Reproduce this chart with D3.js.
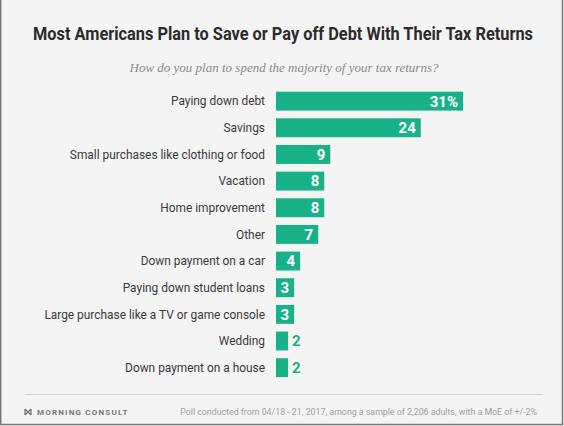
<!DOCTYPE html>
<html>
<head>
<meta charset="utf-8">
<script src="https://cdn.jsdelivr.net/npm/d3@7"></script>
<style>
  body { margin: 0; background: #f4f4f4; }
  svg { display: block; }
</style>
</head>
<body>
<div id="chart"></div>
<script>
const categories = [
  "Paying down debt",
  "Savings",
  "Small purchases like clothing or food",
  "Vacation",
  "Home improvement",
  "Other",
  "Down payment on a car",
  "Paying down student loans",
  "Large purchase like a TV or game console",
  "Wedding",
  "Down payment on a house"
];
const values = [31, 24, 9, 8, 8, 7, 4, 3, 3, 2, 2];

const title = "Most Americans Plan to Save or Pay off Debt With Their Tax Returns";
const subtitle = "How do you plan to spend the majority of your tax returns?";
const footnote = "Poll conducted from 04/18 - 21, 2017, among a sample of 2,206 adults, with a MoE of +/-2%";
const brand = "MORNING CONSULT";

const width = 564, height = 426;
const green = "#19b187";

const data = categories.map((c, i) => ({ label: c, value: values[i] }));

const svg = d3.select("#chart").append("svg")
    .attr("width", width)
    .attr("height", height);

svg.append("rect")
    .attr("width", width)
    .attr("height", height)
    .attr("fill", "#f4f4f4");

// frame (left, right, bottom)
svg.append("path")
    .attr("d", `M0.75,0 V${height - 1.5} H${width - 1.5} V0`)
    .attr("fill", "none")
    .attr("stroke", "#7a7a7a")
    .attr("stroke-width", 1.5);

// title: squeeze horizontally to mimic the condensed face
const titleText = svg.append("text")
    .attr("x", 0)
    .attr("y", 40)
    .attr("text-anchor", "middle")
    .style("font-family", "Roboto, sans-serif")
    .style("font-size", "19px")
    .style("font-weight", "bold")
    .style("fill", "#2b2b2b")
    .text(title);
const tw = titleText.node().getComputedTextLength();
const sx = Math.min(1, 500 / tw);
titleText.attr("transform", `translate(283,0) scale(${sx},1)`);

svg.append("text")
    .attr("x", 284)
    .attr("y", 72)
    .attr("text-anchor", "middle")
    .style("font-family", "'Liberation Serif', 'DejaVu Serif', serif")
    .style("font-style", "italic")
    .style("font-size", "13px")
    .style("fill", "#8a8a8a")
    .text(subtitle);

const x = d3.scaleLinear()
    .domain([0, 31])
    .range([276, 463]);

const y = d3.scaleBand()
    .domain(categories)
    .range([87.8, 381])
    .paddingInner(0.29)
    .paddingOuter(0.145);

const rows = svg.append("g")
    .selectAll("g")
    .data(data)
    .enter()
    .append("g");

rows.append("rect")
    .attr("x", x(0))
    .attr("y", d => y(d.label))
    .attr("width", d => x(d.value) - x(0))
    .attr("height", y.bandwidth())
    .attr("fill", green);

rows.append("text")
    .attr("x", x(0) - 11)
    .attr("y", d => y(d.label) + y.bandwidth() / 2)
    .attr("dy", "0.35em")
    .attr("text-anchor", "end")
    .style("font-family", "Roboto, 'Noto Sans', sans-serif")
    .style("font-size", "11.9px")
    .style("fill", "#3a3a3a")
    .text(d => d.label);

rows.append("text")
    .attr("x", d => d.value >= 3 ? x(d.value) - 5 : x(d.value) + 4)
    .attr("y", d => y(d.label) + y.bandwidth() / 2)
    .attr("dy", "0.36em")
    .attr("text-anchor", d => d.value >= 3 ? "end" : "start")
    .style("font-family", "Roboto, sans-serif")
    .style("font-size", "15px")
    .style("font-weight", "bold")
    .style("fill", d => d.value >= 3 ? "#ffffff" : green)
    .text((d, i) => i === 0 ? d.value + "%" : d.value);

// footer
svg.append("line")
    .attr("x1", 25).attr("x2", 543)
    .attr("y1", 394.5).attr("y2", 394.5)
    .attr("stroke", "#d6d6d6");

svg.append("path")
    .attr("d", "M25,409 L28,412 L31,409 M25,415 L28,412 L31,415 M25,409 V415 M31,409 V415")
    .attr("fill", "none")
    .attr("stroke", "#777")
    .attr("stroke-width", 1.3);

svg.append("text")
    .attr("x", 37)
    .attr("y", 415)
    .style("font-family", "Roboto, sans-serif")
    .style("font-size", "8px")
    .style("font-weight", "bold")
    .style("letter-spacing", "1.2px")
    .style("fill", "#777")
    .text(brand);

svg.append("text")
    .attr("x", 537)
    .attr("y", 415)
    .attr("text-anchor", "end")
    .style("font-family", "Roboto, sans-serif")
    .style("font-size", "8.8px")
    .style("fill", "#a0a0a0")
    .text(footnote);
</script>
</body>
</html>
